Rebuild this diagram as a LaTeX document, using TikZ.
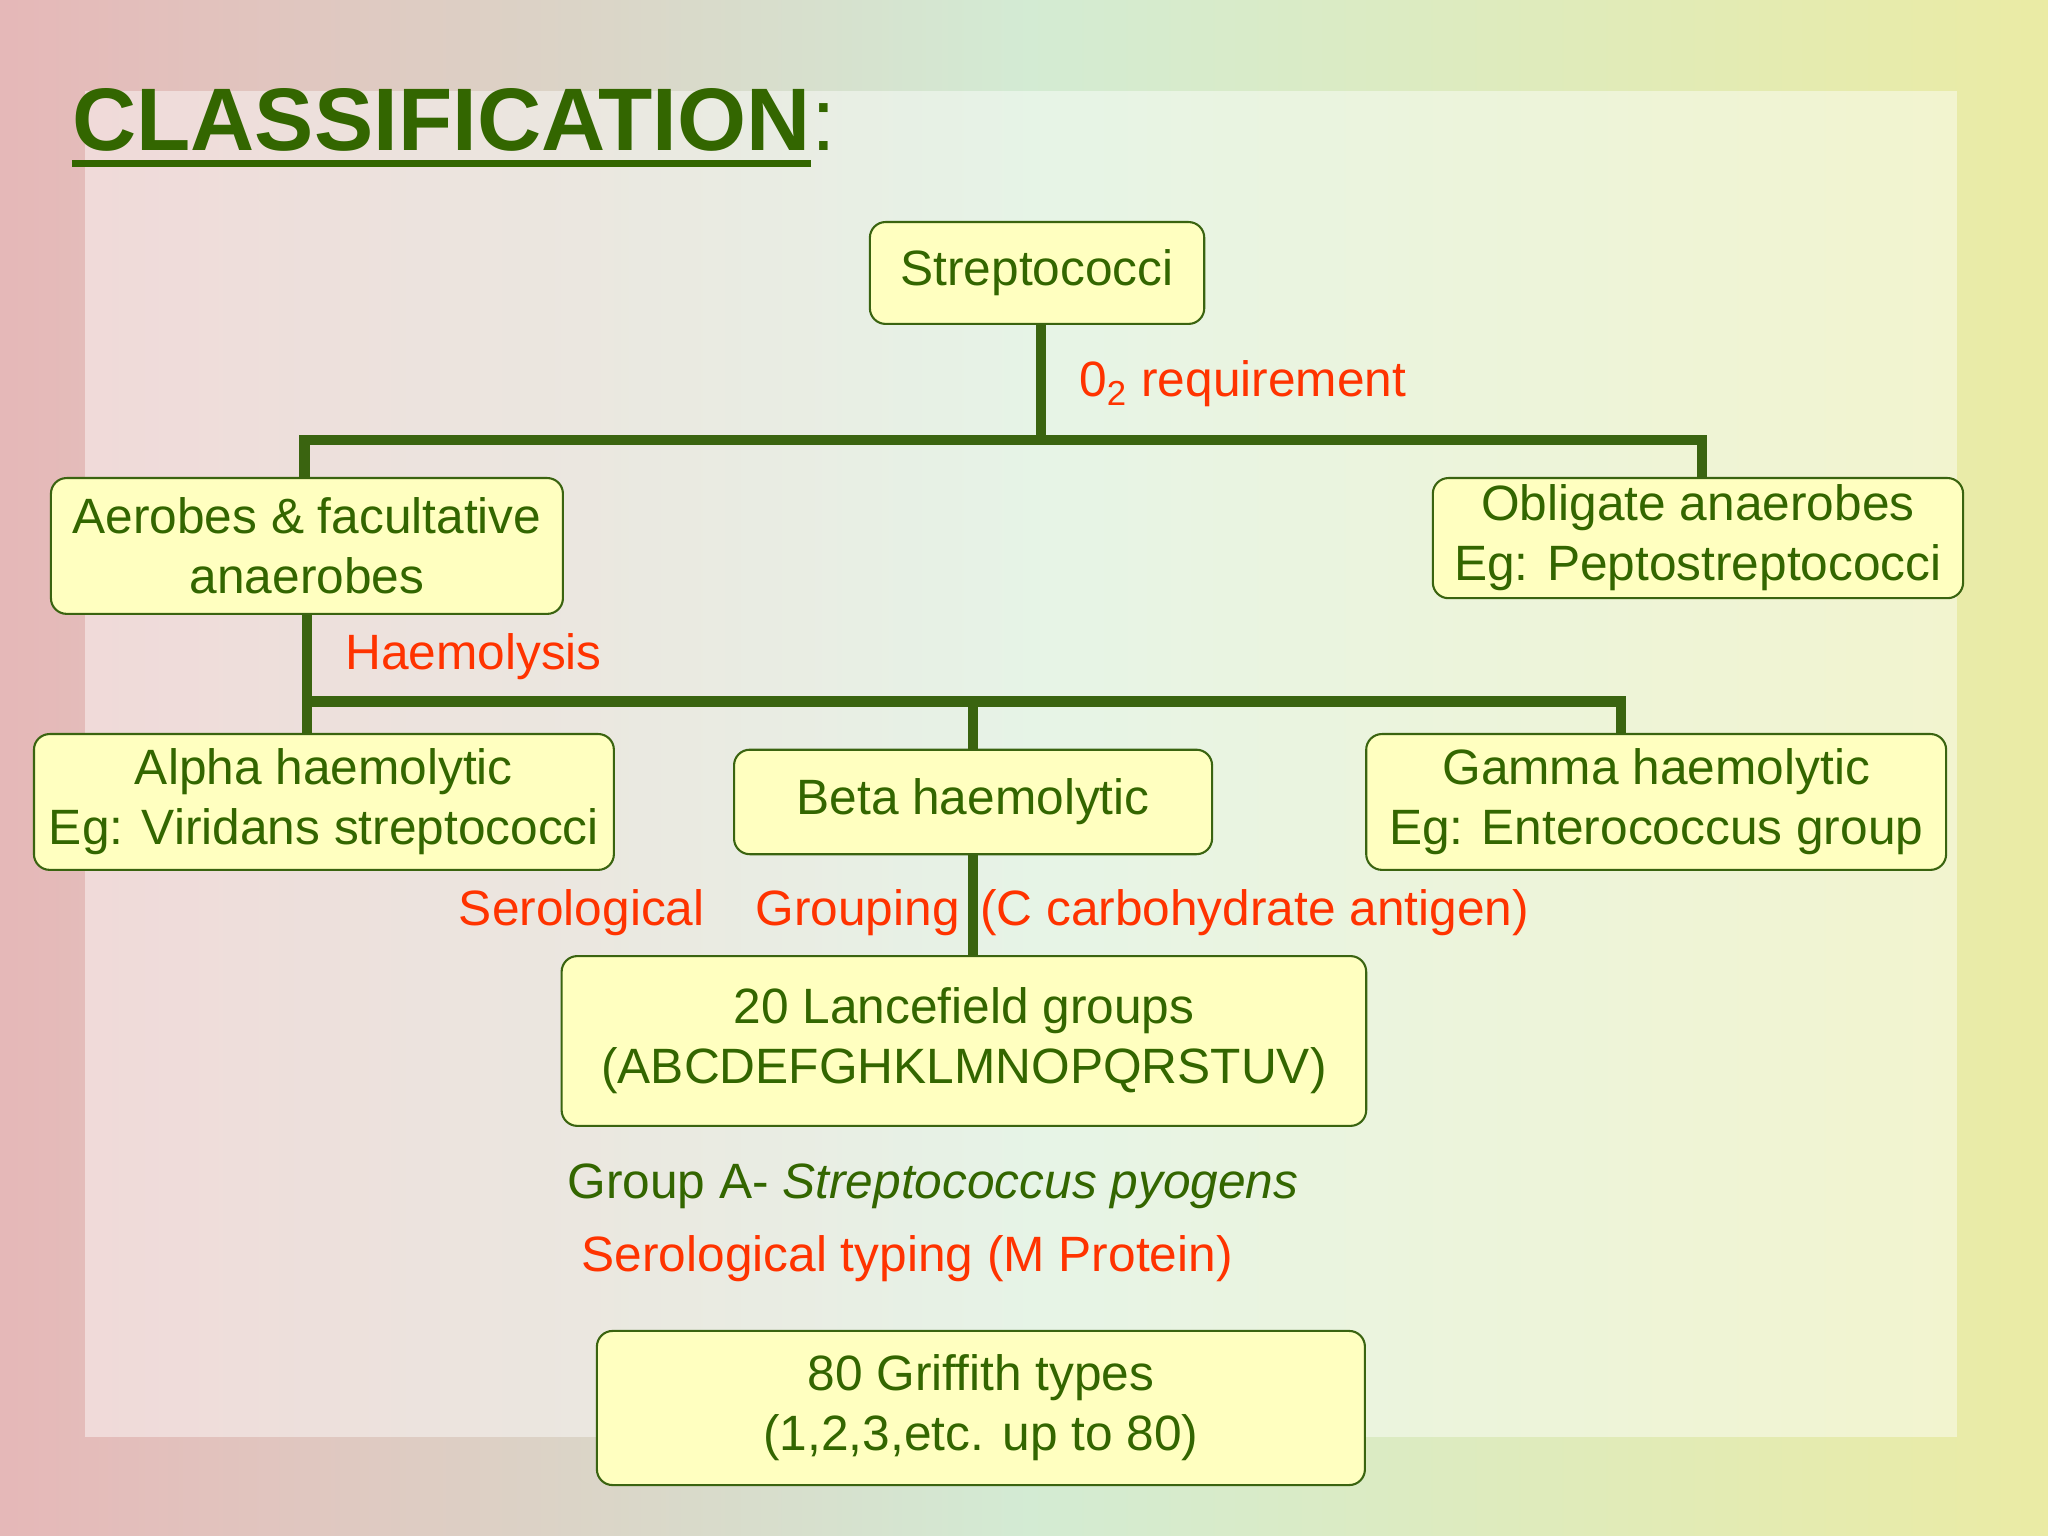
\documentclass[tikz,border=0pt]{standalone}
\usepackage{fontspec}
\setmainfont{Liberation Sans}
\definecolor{dg}{HTML}{336600}
\definecolor{ln}{HTML}{3A6410}
\definecolor{rd}{HTML}{FF3300}
\definecolor{bx}{HTML}{FFFFC0}
\begin{document}
\begin{tikzpicture}[x=0.5pt,y=-0.5pt,
  box/.style={draw=ln,fill=bx,rounded corners=6pt,line width=0.8pt,align=center,text=dg,font=\fontsize{19}{23}\selectfont,inner sep=0pt},
  lab/.style={anchor=west,text=rd,font=\fontsize{19}{23}\selectfont,inner sep=0pt},
  con/.style={draw=ln,line width=4pt}]
\useasboundingbox (0,0) rectangle (1568,1176);
\shade[left color=red!20!white!90!black, right color=yellow!30!white!92!black, middle color=green!10!white!92!black] (0,0) rectangle (1568,1176);
\fill[white,opacity=0.45] (65,70) rectangle (1498,1100);
\node[anchor=base west,text=dg,inner sep=0pt] (title) at (55,115) {\fontsize{34}{40}\selectfont\textbf{CLASSIFICATION}};
\node[anchor=base west,text=dg,inner sep=0pt] (colon) at (title.base east) {\fontsize{34}{40}\selectfont:};
\draw[dg,line width=2.5pt] ([yshift=-5pt]title.base west) -- ([yshift=-5pt]title.base east);
\node[box,minimum width=128pt,minimum height=39pt] (strep) at (794,209) {Streptococci};
\node[box,minimum width=196pt,minimum height=52pt] (aer) at (235,418) {Aerobes \& facultative\\anaerobes};
\node[box,minimum width=203pt,minimum height=46pt] (obl) at (1300,412) {Obligate anaerobes\\Eg: Peptostreptococci};
\node[box,minimum width=222pt,minimum height=52pt] (alp) at (248,614) {Alpha haemolytic\\Eg: Viridans streptococci};
\node[box,minimum width=183pt,minimum height=40pt] (bet) at (745,614) {Beta haemolytic};
\node[box,minimum width=222pt,minimum height=52pt] (gam) at (1268,614) {Gamma haemolytic\\Eg: Enterococcus group};
\node[box,minimum width=308pt,minimum height=65pt] (lan) at (738,797) {20 Lancefield groups\\(ABCDEFGHKLMNOPQRSTUV)};
\node[box,minimum width=294pt,minimum height=59pt] (gri) at (751,1078) {80 Griffith types\\(1,2,3,etc. up to 80)};
\coordinate (j1) at (797,337);
\coordinate (j2) at (235,537);
\draw[con] (strep.south -| j1) -- (j1);
\draw[con] (aer.north -| 233,0) -- (233,337) -- (1303,337) -- (obl.north -| 1303,0);
\draw[con] (aer.south) -- (j2);
\draw[con] (alp.north -| j2) -- (j2) -- (1241,537) -- (gam.north -| 1241,0);
\draw[con] (745,537) -- (bet.north);
\draw[con] (bet.south) -- (lan.north -| bet.south);
\node[lab] (o2) at (826,294) {0\textsubscript{2} requirement};
\node[lab] (hae) at (264,503) {Haemolysis};
\node[lab] (ser) at (351,699) {Serological};
\node[lab] (grp) at (578,699) {Grouping};
\node[lab] (cca) at (750,699) {(C carbohydrate antigen)};
\node[lab,text=dg] (ga) at (434,908) {Group A- \textit{Streptococcus pyogens}};
\node[lab] (st) at (445,964) {Serological typing (M Protein)};
\end{tikzpicture}
\end{document}
